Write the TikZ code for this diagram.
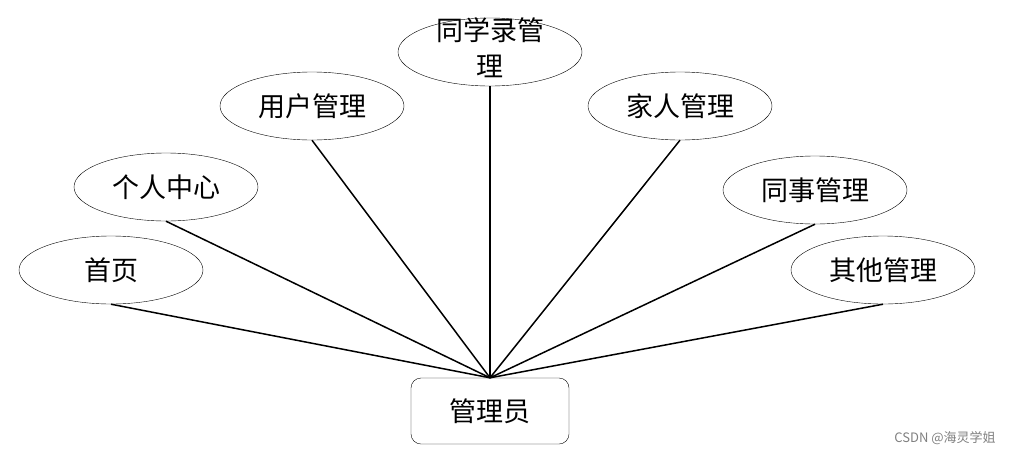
\documentclass[tikz,border=0pt]{standalone}
\usepackage{fontspec}
\newfontfamily\cjk{Noto Sans CJK SC}
\usetikzlibrary{shapes.geometric}
\begin{document}
\begin{tikzpicture}[x=1pt,y=-1pt,
  ent/.style={draw,ellipse,inner sep=0pt,minimum width=184pt,minimum height=68pt,font=\cjk\fontsize{27}{29}\selectfont},
  role/.style={draw,rounded corners=10pt,minimum width=158pt,minimum height=66pt,font=\cjk\fontsize{27}{29}\selectfont},
  link/.style={line width=1.5pt}]
\useasboundingbox (0,0) rectangle (1030,456);
\node[ent] (home) at (111,270) {首页};
\node[ent] (me) at (166,187) {个人中心};
\node[ent] (user) at (312,106) {用户管理};
\node[ent] (cls) at (490,52) {};
\node[font=\cjk\fontsize{27}{36}\selectfont,align=center] (clst) at (490,48) {同学录管\\理};
\node[ent] (fam) at (680,106) {家人管理};
\node[ent] (col) at (815,190) {同事管理};
\node[ent] (oth) at (883,270) {其他管理};
\node[role] (adm) at (490,411) {管理员};
\foreach \n in {home,me,user,cls,fam,col,oth}
  \draw[link] (\n.south) -- (adm.north);
\node[text=gray,font=\cjk\fontsize{13}{15}\selectfont] (wm) at (945,438) {CSDN @海灵学姐};
\end{tikzpicture}
\end{document}
